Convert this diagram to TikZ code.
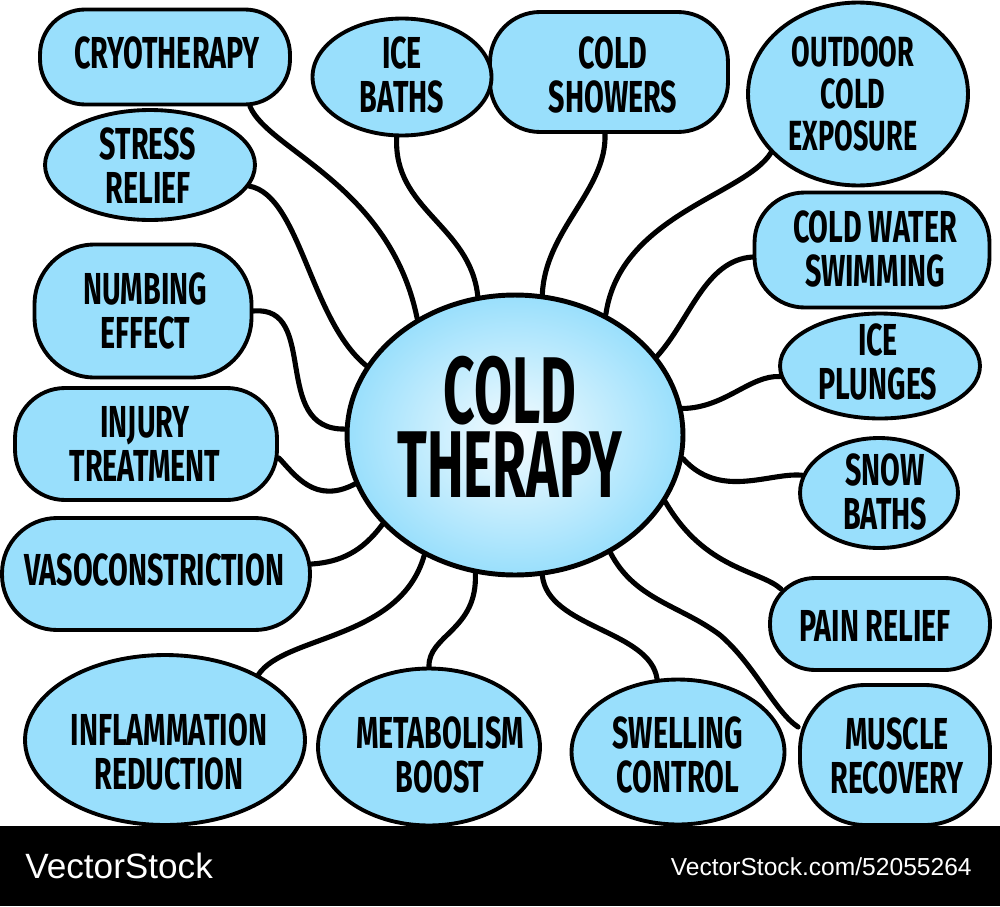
\documentclass[tikz,border=0pt]{standalone}
\usepackage{fontspec}
\setmainfont{Liberation Sans}
\newfontfamily\hand[FakeStretch=0.64]{Fira Sans}
\newfontfamily\handc[FakeStretch=0.58]{Fira Sans}
\usetikzlibrary{shapes.geometric,calc}
\definecolor{icefill}{RGB}{153,223,252}
\tikzset{
  blobell/.style={ellipse, draw=black, line width=2.2pt, fill=icefill, inner sep=0pt},
  blobrect/.style={rectangle, draw=black, line width=2.2pt, fill=icefill, inner sep=0pt},
  lab/.style={align=center, font=\hand\bfseries\fontsize{25.5}{25}\selectfont, inner sep=0pt},
  bigtext/.style={font=\handc\bfseries\fontsize{54}{45}\selectfont, inner sep=0pt},
  conn/.style={draw=black, line width=2.9pt, line cap=round},
}
\begin{document}
\begin{tikzpicture}[x=0.02cm, y=-0.02cm]
\useasboundingbox (0,0) rectangle (1000,906);

% central node
\node[ellipse, draw=black, line width=2.8pt, minimum width=6.72cm, minimum height=5.6cm,
      inner color=icefill!10!white, outer color=icefill] (center) at (515,435) {};
\node[bigtext] (center-t1) at (510,391) {COLD};
\node[bigtext] (center-t2) at (510,465) {THERAPY};

% blobs
\node[blobrect, rounded corners=0.9cm, minimum width=5cm, minimum height=1.9cm] (cryo) at (165,57) {};
\node[blobell, minimum width=4.2cm, minimum height=2.2cm] (stress) at (150,165) {};
\node[blobrect, rounded corners=1.2cm, minimum width=4.34cm, minimum height=2.66cm] (numbing) at (143,311) {};
\node[blobrect, rounded corners=1.0cm, minimum width=5.24cm, minimum height=2.24cm] (injury) at (146,444) {};
\node[blobrect, rounded corners=1.1cm, minimum width=6.16cm, minimum height=2.24cm] (vaso) at (156,574) {};
\node[blobell, minimum width=5.6cm, minimum height=3.4cm] (inflam) at (165,740) {};
\node[blobell, minimum width=4.44cm, minimum height=3.14cm] (metab) at (429,747) {};
\node[blobell, minimum width=4.26cm, minimum height=2.9cm] (swell) at (678,752) {};
\node[blobrect, rounded corners=1.3cm, minimum width=3.8cm, minimum height=2.8cm] (muscle) at (895,755) {};
\node[blobrect, rounded corners=0.9cm, minimum width=4.4cm, minimum height=1.84cm] (pain) at (880,624) {};
\node[blobell, minimum width=3.16cm, minimum height=2.2cm] (snow) at (879,493) {};
\node[blobell, minimum width=4.0cm, minimum height=2.1cm] (plunges) at (880,366) {};
\node[blobrect, rounded corners=1.0cm, minimum width=4.7cm, minimum height=2.3cm] (cws) at (872,250) {};
\node[blobell, minimum width=4.4cm, minimum height=3.66cm] (outdoor) at (858,94) {};
\node[blobrect, rounded corners=1.0cm, minimum width=4.76cm, minimum height=2.4cm] (showers) at (609,72) {};
\node[blobell, minimum width=3.58cm, minimum height=2.34cm] (icebaths) at (402,77) {};

% labels
\node[lab] (cryo-t) at (167,53) {CRYOTHERAPY};
\node[lab] (stress-t) at (148,166) {STRESS\\RELIEF};
\node[lab] (numbing-t) at (145,311) {NUMBING\\EFFECT};
\node[lab] (injury-t) at (145,444) {INJURY\\TREATMENT};
\node[lab] (vaso-t) at (154,570) {VASOCONSTRICTION};
\node[lab] (inflam-t) at (169,752) {INFLAMMATION\\REDUCTION};
\node[lab] (metab-t) at (440,755) {METABOLISM\\BOOST};
\node[lab] (swell-t) at (678,755) {SWELLING\\CONTROL};
\node[lab] (muscle-t) at (897,756) {MUSCLE\\RECOVERY};
\node[lab] (pain-t) at (875,626) {PAIN RELIEF};
\node[lab] (snow-t) at (885,492) {SNOW\\BATHS};
\node[lab] (plunges-t) at (878,362) {ICE\\PLUNGES};
\node[lab] (cws-t) at (875,249) {COLD WATER\\SWIMMING};
\node[lab, font=\hand\bfseries\fontsize{24}{24}\selectfont] (outdoor-t) at (853,94) {OUTDOOR\\COLD\\EXPOSURE};
\node[lab] (showers-t) at (613,75) {COLD\\SHOWERS};
\node[lab] (icebaths-t) at (402,75) {ICE\\BATHS};

% connectors
\draw[conn] ([xshift=1.7cm]cryo.south) .. controls (268,150) and (390,185) .. (center.130.5);
\draw[conn] (stress.-12) .. controls (300,195) and (310,320) .. (center.155.4);
\draw[conn] (numbing.east) .. controls (320,305) and (270,430) .. (center.178);
\draw[conn] ([yshift=-0.28cm]injury.east) .. controls (295,475) and (315,505) .. (center.197.8);
\draw[conn] ([yshift=0.2cm]vaso.east) .. controls (340,562) and (362,552) .. (center.214);
\draw[conn] (inflam.35) .. controls (285,635) and (400,640) .. (center.233);
\draw[conn] (metab.90) .. controls (428,635) and (478,630) .. (center.254);
\draw[conn] (swell.106) .. controls (650,630) and (548,628) .. (center.281.5);
\draw[conn] ([yshift=0.56cm]muscle.west) .. controls (775,712) and (755,665) .. (720,635)
            .. controls (680,605) and (635,600) .. (center.309);
\draw[conn] ([xshift=0.26cm,yshift=-0.26cm]pain.north west) .. controls (760,570) and (705,570) .. (center.336);
\draw[conn] (snow.167) .. controls (770,472) and (720,500) .. (center.352);
\draw[conn] (plunges.186) .. controls (750,375) and (725,408) .. (center.9);
\draw[conn] ([yshift=-0.14cm]cws.west) .. controls (705,260) and (690,320) .. (center.29.6);
\draw[conn] (outdoor.214) .. controls (745,195) and (620,215) .. (center.53.8);
\draw[conn] ([xshift=-0.08cm]showers.south) .. controls (607,190) and (545,230) .. (center.79);
\draw[conn] (icebaths.265) .. controls (393,210) and (470,225) .. (center.105);

% bottom bar
\fill[black] (0,826) rectangle (1000,906);
\node[anchor=base west, text=white, font=\fontsize{20}{22}\selectfont, inner sep=0pt] (brand) at (25,878) {VectorStock};
\node[anchor=base east, text=white, font=\fontsize{14}{16}\selectfont, inner sep=0pt] (url) at (972,875) {VectorStock.com/52055264};
\end{tikzpicture}
\end{document}
